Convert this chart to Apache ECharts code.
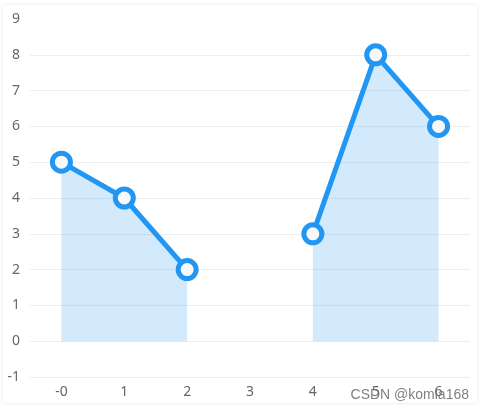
<!DOCTYPE html>
<html>
<head>
<meta charset="utf-8">
<script src="https://cdn.jsdelivr.net/npm/echarts@6/dist/echarts.min.js"></script>
<style>
html,body{margin:0;padding:0;background:#fff;}
#card{position:absolute;left:3px;top:5px;width:474px;height:398px;background:#fff;box-shadow:0 0 3px rgba(0,0,0,0.12);border-radius:2px;}
#chart{position:absolute;left:0;top:0;width:483px;height:411px;}
</style>
</head>
<body>
<div id="card"></div>
<div id="chart"></div>
<script>
var categories = ['-0', '1', '2', '3', '4', '5', '6'];
var values = [5, 4, 2, null, 3, 8, 6];
var yMin = -1, yMax = 9, yInterval = 1;

var chart = echarts.init(document.getElementById('chart'), null, {renderer: 'canvas'});
chart.setOption({
  backgroundColor: 'transparent',
  animation: false,
  grid: {left: 30, right: 13, top: 19, bottom: 34},
  xAxis: {
    type: 'category',
    data: categories,
    boundaryGap: true,
    axisLine: {show: false},
    axisTick: {show: false},
    axisLabel: {color: '#666', fontSize: 14, fontFamily: 'Noto Sans', margin: 8}
  },
  yAxis: {
    type: 'value',
    min: yMin, max: yMax, interval: yInterval,
    axisLine: {show: false},
    axisTick: {show: false},
    axisLabel: {color: '#666', fontSize: 14, fontFamily: 'Noto Sans', margin: 10},
    splitLine: {show: true, showMaxLine: false, lineStyle: {color: '#eeeeee', width: 1}}
  },
  series: [{
    type: 'line',
    data: values,
    connectNulls: false,
    symbol: 'circle',
    symbolSize: 18,
    lineStyle: {color: '#2196f3', width: 5},
    itemStyle: {color: '#f8f8fa', borderColor: '#2196f3', borderWidth: 5},
    areaStyle: {color: 'rgba(33,150,243,0.2)', opacity: 1}
  }],
  graphic: [{
    type: 'text',
    right: 14, bottom: 9,
    style: {text: 'CSDN @komla168', fill: '#808080', fontSize: 14, fontFamily: 'Liberation Sans'}
  }]
});
</script>
</body>
</html>
